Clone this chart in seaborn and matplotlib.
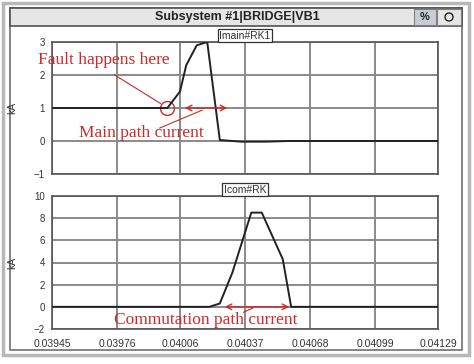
import numpy as np
import pandas as pd
import seaborn as sns
import matplotlib.pyplot as plt
from matplotlib.patches import Rectangle, Circle

# Data (time in s, current in kA)
main_t = [0.03945, 0.04000, 0.04006, 0.04009, 0.04014, 0.04019, 0.04025, 0.04035, 0.04047, 0.04058, 0.04129]
main_i = [1.0, 1.0, 1.5, 2.3, 2.9, 3.0, 0.03, -0.02, -0.02, 0.0, 0.0]
com_t = [0.03945, 0.04020, 0.04025, 0.04031, 0.04036, 0.04040, 0.04045, 0.04050, 0.04055, 0.04059, 0.04129]
com_i = [0.0, 0.0, 0.3, 3.1, 6.1, 8.5, 8.5, 6.4, 4.3, 0.0, 0.0]
xticks = [0.03945, 0.03976, 0.04006, 0.04037, 0.04068, 0.04099, 0.04129]
top_yticks = [-1, 0, 1, 2, 3]
bot_yticks = [-2, 0, 2, 4, 6, 8, 10]

sns.set_style("white")
plt.rcParams['font.family'] = ['Liberation Sans', 'DejaVu Sans']

W, H = 474, 364
fig = plt.figure(figsize=(W / 100, H / 100), dpi=100)
fig.patch.set_facecolor('white')


def px(x0, y0, x1, y1):
    return [x0 / W, 1 - y1 / H, (x1 - x0) / W, (y1 - y0) / H]


# window frame
frame = fig.add_axes([0, 0, 1, 1])
frame.set_xlim(0, W)
frame.set_ylim(H, 0)
frame.axis('off')
frame.add_patch(Rectangle((3, 3), 466, 352, fill=False, ec='#b8b8b8', lw=2.5))
frame.add_patch(Rectangle((10, 8), 452, 342, fill=False, ec='#707070', lw=1.2))
frame.add_patch(Rectangle((10, 8), 452, 18, fc='#e6e6e6', ec='#505050', lw=1.2))
frame.add_patch(Rectangle((414, 9), 22, 16, fc='#c8ccd4', ec='#808080', lw=0.8))
frame.add_patch(Rectangle((437, 9), 24, 16, fc='#e6e6e6', ec='#808080', lw=0.8))
frame.add_patch(Circle((449, 17), 4, fill=False, ec='#222222', lw=1))
frame.text(425, 17, '%', ha='center', va='center', fontsize=8, fontweight='bold', color='#222222')
frame.text(237, 17, 'Subsystem #1|BRIDGE|VB1', ha='center', va='center',
           fontsize=9, fontweight='bold', color='#222222')

grid_kw = dict(color='#8a8a8a', lw=1.4)

ax1 = fig.add_axes(px(52, 42, 438, 174))
ax2 = fig.add_axes(px(52, 196, 438, 329))

df_main = pd.DataFrame({'t': main_t, 'kA': main_i})
df_com = pd.DataFrame({'t': com_t, 'kA': com_i})
sns.lineplot(data=df_main, x='t', y='kA', ax=ax1, color='#222222', lw=1.4, zorder=3)
sns.lineplot(data=df_com, x='t', y='kA', ax=ax2, color='#222222', lw=1.4, zorder=3)

for ax, yt in [(ax1, top_yticks), (ax2, bot_yticks)]:
    ax.set_xlim(xticks[0], xticks[-1])
    ax.set_ylim(yt[0], yt[-1])
    ax.set_xticks(xticks)
    ax.set_yticks(yt)
    ax.grid(True, **grid_kw)
    ax.set_axisbelow(True)
    ax.tick_params(axis='y', labelsize=7, colors='#333333', length=0, pad=5)
    ax.tick_params(axis='x', labelsize=7.5, colors='#333333', length=0, pad=7)
    for s in ax.spines.values():
        s.set_color('#555555')
        s.set_linewidth(1.2)
    ax.set_xlabel('')
    ax.set_ylabel('kA', fontsize=7.5, color='#333333', labelpad=12)

ax1.set_xticklabels([])
ax2.set_xticklabels([f'{v:.5f}' for v in xticks])

box = dict(boxstyle='square,pad=0.15', fc='white', ec='#333333', lw=0.9)
ax1.text(0.5, 1.01, 'Imain#RK1', transform=ax1.transAxes, ha='center', va='bottom',
         fontsize=7.5, color='#333333', bbox=box)
ax2.text(0.5, 1.01, 'Icom#RK', transform=ax2.transAxes, ha='center', va='bottom',
         fontsize=7.5, color='#333333', bbox=box)

# annotations (red)
red = '#cc2a2a'
serif = ['Liberation Serif', 'DejaVu Serif']
ax1.plot([0.04], [1.0], marker='o', ms=10, mfc='none', mec=red, mew=1)
ax1.text(0.039695, 2.45, 'Fault happens here', fontsize=12.5, color=red,
         family=serif, ha='center', va='center')
ax1.annotate('', xy=(0.039979, 1.09), xytext=(0.039736, 2.05),
             arrowprops=dict(arrowstyle='-', color=red, lw=0.8))
ax1.annotate('', xy=(0.040299, 1.0), xytext=(0.040070, 1.0),
             arrowprops=dict(arrowstyle='<->', color=red, lw=1))
ax1.text(0.039874, 0.24, 'Main path current', fontsize=12.5, color=red,
         family=serif, ha='center', va='center')
ax1.annotate('', xy=(0.040179, 0.97), xytext=(0.039951, 0.36),
             arrowprops=dict(arrowstyle='-', color=red, lw=0.8))

ax2.annotate('', xy=(0.040594, 0.0), xytext=(0.040260, 0.0),
             arrowprops=dict(arrowstyle='<->', color=red, lw=1))
ax2.text(0.040184, -1.2, 'Commutation path current', fontsize=12.5, color=red,
         family=serif, ha='center', va='center')
ax2.annotate('', xy=(0.04042, 0.0), xytext=(0.04035, -0.6),
             arrowprops=dict(arrowstyle='-', color=red, lw=0.8))

fig.savefig('out.png', dpi=100)
